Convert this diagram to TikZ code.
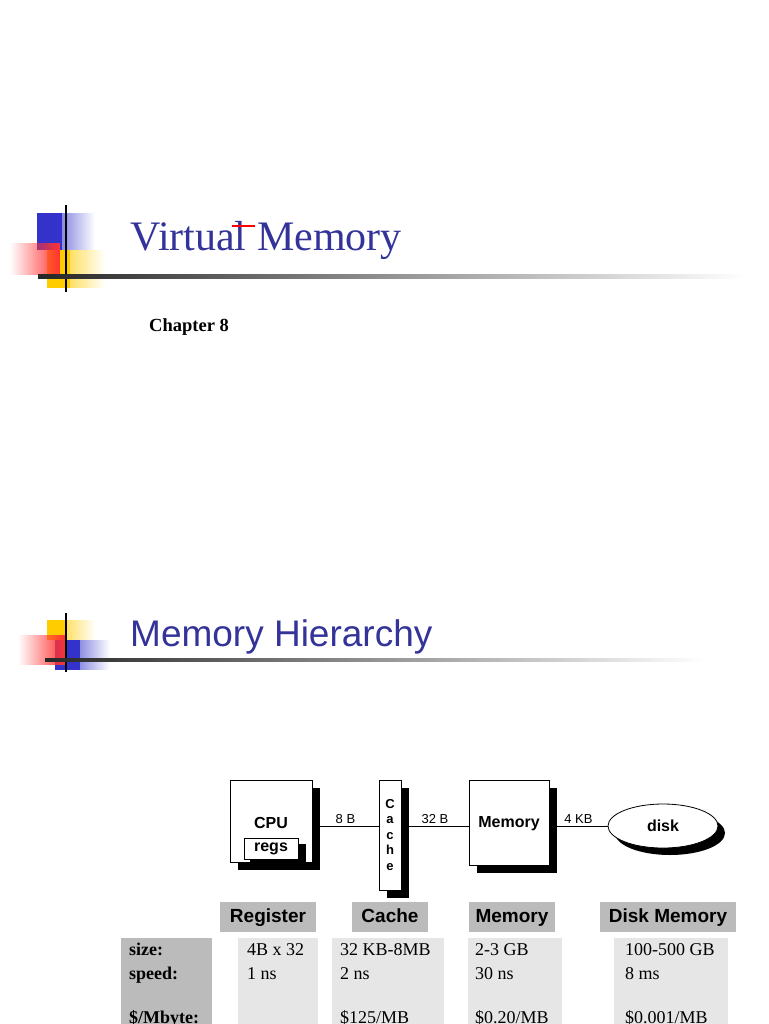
\documentclass[tikz,border=0pt]{standalone}
\usepackage{fontspec}
\setmainfont{Liberation Serif}
\newfontfamily\sans{Liberation Sans}
\usetikzlibrary{fadings,shadows,shapes.geometric}
\definecolor{navy}{HTML}{333399}
\definecolor{dblue}{HTML}{3333CC}
\definecolor{yel}{HTML}{FFCC00}
\definecolor{hdr}{HTML}{BBBBBB}
\definecolor{cell}{HTML}{E6E6E6}
\tikzset{
 box/.style={draw=black,fill=white,line width=0.8pt,inner sep=0pt},
 shad/.style={fill=black},
 lab/.style={font=\sans\fontsize{13}{15}\selectfont,inner sep=1pt},
 head/.style={fill=hdr,font=\sans\bfseries\fontsize{19}{21}\selectfont,inner sep=0pt,text height=14pt,text depth=4pt},
 cellb/.style={fill=cell},
 val/.style={font=\fontsize{18}{24}\selectfont,anchor=north west,align=left,inner sep=0pt},
}
\begin{document}
\begin{tikzpicture}[x=1pt,y=-1pt]
\useasboundingbox (0,0) rectangle (768,1024);
% slide 1 decoration
\fill[dblue,path fading=east] (37,213) rectangle (95,250);
\fill[dblue] (37,213) rectangle (62,250);
\fill[yel,path fading=east] (47,250) rectangle (105,288);
\fill[yel] (47,250) rectangle (70,288);
\fill[red!80,path fading=west] (10,243) rectangle (60,275);
\draw[line width=2pt] (66,205) -- (66,292);
\shade[left color=black!85,right color=white] (38,274.5) rectangle (745,278);
\node[anchor=base west,text=navy,font=\fontsize{42}{44}\selectfont,inner sep=0] (t1) at (130,250) {Virtual Memory};
\draw[red,line width=2pt] (232,226) -- (255,226);
\node[anchor=base west,font=\bfseries\fontsize{18.5}{20}\selectfont,inner sep=0] (ch) at (149,331) {Chapter 8};
% slide 2 decoration
\fill[yel,path fading=east] (47,620) rectangle (95,640);
\fill[yel] (47,620) rectangle (66,640);
\fill[dblue,path fading=east] (55,640) rectangle (110,670);
\fill[dblue] (55,640) rectangle (80,670);
\fill[red!80,path fading=west] (18,635) rectangle (65,665);
\draw[line width=2pt] (66,613) -- (66,672);
\shade[left color=black!85,right color=white] (45,658.5) rectangle (705,661.5);
\node[anchor=base west,text=navy,font=\sans\fontsize{37}{39}\selectfont,inner sep=0] (t2) at (130,646) {Memory Hierarchy};
% diagram
\fill[shad] (238,788) rectangle (320,870);
\node[box,minimum width=82pt,minimum height=82pt] (cpu) at (271,821) {};
\node[font=\sans\bfseries\fontsize{16}{18}\selectfont] at (271,823) {CPU};
\fill[shad] (250,844) rectangle (306,867);
\node[box,minimum width=54pt,minimum height=21pt,font=\sans\bfseries\fontsize{16}{18}\selectfont] (regs) at (271,849) {regs};
\fill[shad] (387,788) rectangle (409,898);
\node[box,minimum width=22pt,minimum height=110pt,font=\sans\bfseries\fontsize{13}{15.5}\selectfont,align=center] (cache) at (390,835) {C\\a\\c\\h\\e};
\fill[shad] (477,788) rectangle (557,873);
\node[box,minimum width=80pt,minimum height=85pt] (mem) at (509,822.5) {};
\node[font=\sans\bfseries\fontsize{16}{18}\selectfont] at (509,824) {Memory};
\fill[shad] (670,833) ellipse [x radius=55, y radius=22];
\node[box,ellipse,minimum width=110pt,minimum height=44pt,font=\sans\bfseries\fontsize{16}{18}\selectfont] (disk) at (663,826) {disk};
\draw[line width=0.8pt] (cpu.east|-0,826) -- node[lab,above=1pt]{8 B} (cache.west|-0,826);
\draw[line width=0.8pt] (cache.east|-0,826) -- node[lab,above=1pt]{32 B} (mem.west|-0,826);
\draw[line width=0.8pt] (mem.east|-0,826) -- node[lab,above=1pt]{4 KB} (disk.west);
% table
\node[head,minimum width=96pt,minimum height=30pt] (h1) at (268,917) {Register};
\node[head,minimum width=76pt,minimum height=30pt] (h2) at (390,917) {Cache};
\node[head,minimum width=86pt,minimum height=30pt] (h3) at (512,917) {Memory};
\node[head,minimum width=136pt,minimum height=30pt] (h4) at (668,917) {Disk Memory};
\fill[hdr] (121,938) rectangle (212,1030);
\fill[cellb] (238,938) rectangle (318,1030);
\fill[cellb] (332,938) rectangle (444,1030);
\fill[cellb] (468,938) rectangle (562,1030);
\fill[cellb] (614,938) rectangle (728,1030);
\node[val,font=\bfseries\fontsize{18}{24}\selectfont] (l1) at (129,943) {size:\\speed:\\[20pt]\$/Mbyte:};
\node[val] (v1) at (247,943) {4B x 32\\1 ns};
\node[val] (v2) at (340,943) {32 KB-8MB\\2 ns\\[20pt]\$125/MB};
\node[val] (v3) at (475,943) {2-3 GB\\30 ns\\[20pt]\$0.20/MB};
\node[val] (v4) at (625,943) {100-500 GB\\8 ms\\[20pt]\$0.001/MB};
\end{tikzpicture}
\end{document}
